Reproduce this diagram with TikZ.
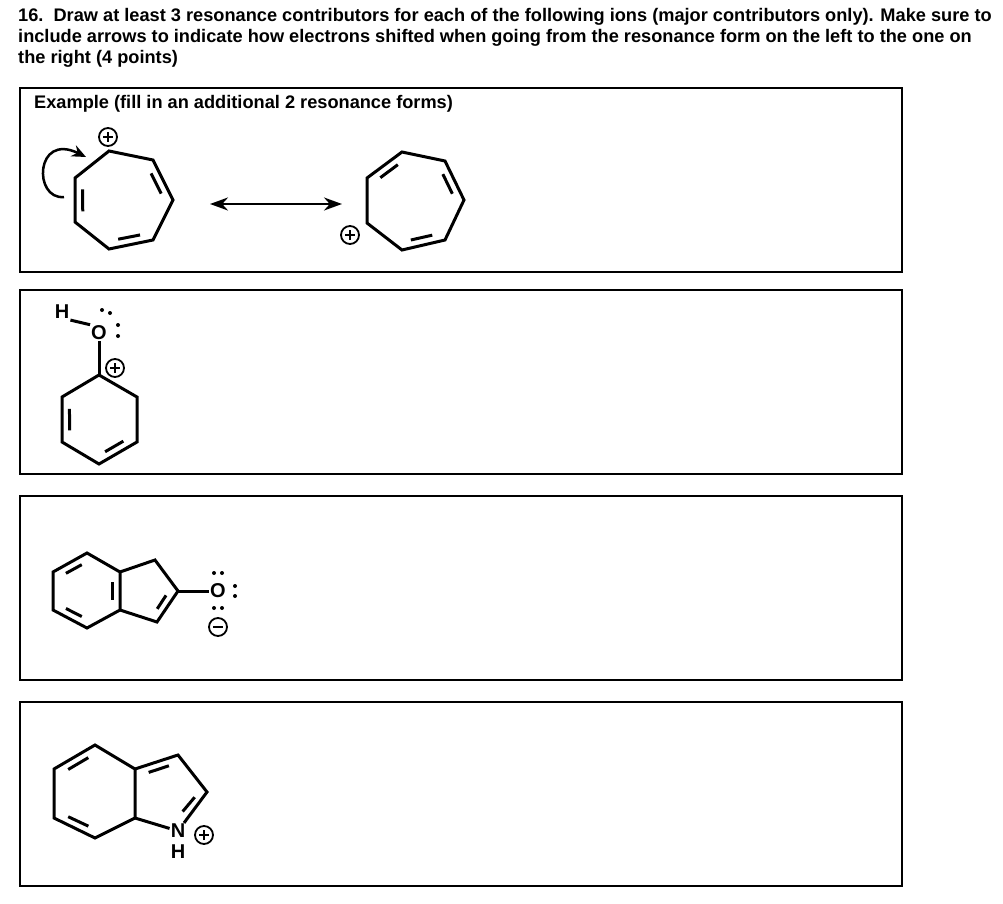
\documentclass[tikz,border=0pt]{standalone}
\usepackage{fontspec}
\setmainfont{Liberation Sans}
\usetikzlibrary{calc,arrows.meta}
\begin{document}
\begin{tikzpicture}[x=1pt,y=-1pt,
  bond/.style={line width=3pt,line join=miter},
  frame/.style={line width=1.5pt},
  atom/.style={font=\bfseries\fontsize{20}{20}\selectfont,inner sep=1pt},
  cplus/.style={circle,draw,line width=1.8pt,minimum size=18pt,inner sep=0pt,
    path picture={\draw[line width=2pt] (path picture bounding box.center) ++(-5pt,0)--++(10pt,0)
      (path picture bounding box.center) ++(0,-5pt)--++(0,10pt);}},
  cminus/.style={circle,draw,line width=1.8pt,minimum size=18pt,inner sep=0pt,
    path picture={\draw[line width=2pt] (path picture bounding box.center) ++(-5pt,0)--++(10pt,0);}},
  dot/.style={circle,fill,inner sep=0pt,minimum size=4pt},
  txt/.style={font=\bfseries\fontsize{18.2}{21}\selectfont,anchor=north west,inner sep=0pt,align=left}]
\useasboundingbox (0,0) rectangle (1003,904);
\newcommand\dbl[3]{\draw[bond] ($($(#1)!0.2!(#2)$)!8pt!(#3)$) -- ($($(#1)!0.8!(#2)$)!8pt!(#3)$);}
\node[txt] (title) at (18,8) {16.\ \ Draw at least 3 resonance contributors for each of the following ions (major contributors only). Make sure to\\include arrows to indicate how electrons shifted when going from the resonance form on the left to the one on\\the right (4 points)};
\draw[frame] (20,88) rectangle (902,272);
\draw[frame] (20,290) rectangle (902,474);
\draw[frame] (20,496) rectangle (902,680);
\draw[frame] (20,702) rectangle (902,886);
\node[txt] (ex) at (34,95) {Example (fill in an additional 2 resonance forms)};
% heptagon 1
\coordinate (a1) at (109,151); \coordinate (a2) at (153,160); \coordinate (a3) at (173,200);
\coordinate (a4) at (153,240); \coordinate (a5) at (109,249); \coordinate (a6) at (75,222);
\coordinate (a7) at (75,178); \coordinate (ac) at (120,202);
\draw[bond] (a1)--(a2)--(a3)--(a4)--(a5)--(a6)--(a7)--cycle;
\dbl{a6}{a7}{ac}\dbl{a2}{a3}{ac}\dbl{a4}{a5}{ac}
\node[cplus] (p1) at (108,137) {};
\coordinate (ca) at (64,197); \coordinate (cb) at (86,157);
\draw[line width=2.5pt,-{Stealth[length=14pt,width=12pt]}] (ca) .. controls (33,200) and (35,132) .. (cb);
% resonance arrow
\coordinate (r1) at (210,204); \coordinate (r2) at (342,204);
\draw[line width=2.5pt,{Stealth[length=18pt,width=13pt]}-{Stealth[length=18pt,width=13pt]}] (r1)--(r2);
% heptagon 2
\coordinate (b1) at (402,152); \coordinate (b2) at (445,161); \coordinate (b3) at (464,200);
\coordinate (b4) at (445,240); \coordinate (b5) at (402,250); \coordinate (b6) at (367,223);
\coordinate (b7) at (367,178); \coordinate (bc) at (412,202);
\draw[bond] (b1)--(b2)--(b3)--(b4)--(b5)--(b6)--(b7)--cycle;
\dbl{b7}{b1}{bc}\dbl{b2}{b3}{bc}\dbl{b4}{b5}{bc}
\node[cplus] (p2) at (350,235) {};
% molecule 2
\node[atom] (H2) at (62,312) {H};
\node[atom] (O2) at (99,333) {O};
\draw[bond] (H2.south east)--(O2.north west);
\coordinate (c1) at (99,375); \coordinate (c2) at (137,397); \coordinate (c3) at (137,442);
\coordinate (c4) at (99,464); \coordinate (c5) at (62,442); \coordinate (c6) at (62,397);
\coordinate (cc) at (99,420);
\draw[bond] (O2)--(c1);
\draw[bond] (c1)--(c2)--(c3)--(c4)--(c5)--(c6)--cycle;
\dbl{c5}{c6}{cc}\dbl{c3}{c4}{cc}
\node[cplus] (p3) at (115,368) {};
\node[dot] at (102,310) {}; \node[dot] at (110,313) {};
\node[dot] at (118,325) {}; \node[dot] at (118,336) {};
% molecule 3
\coordinate (d1) at (87,553); \coordinate (d2) at (120,572); \coordinate (d3) at (120,610);
\coordinate (d4) at (87,628); \coordinate (d5) at (53,610); \coordinate (d6) at (53,572);
\coordinate (dc) at (87,591);
\coordinate (e1) at (155,560); \coordinate (e2) at (178,591); \coordinate (e3) at (157,622);
\coordinate (ec) at (147,591);
\draw[bond] (d1)--(d2)--(d3)--(d4)--(d5)--(d6)--cycle;
\draw[bond] (d2)--(e1)--(e2)--(e3)--(d3);
\dbl{d6}{d1}{dc}\dbl{d2}{d3}{dc}\dbl{d4}{d5}{dc}\dbl{e2}{e3}{ec}
\node[atom] (O3) at (218,591) {O};
\draw[bond] (e2)--(O3);
\node[dot] at (214,573) {}; \node[dot] at (222,573) {};
\node[dot] at (214,608) {}; \node[dot] at (222,608) {};
\node[dot] at (235,586) {}; \node[dot] at (235,596) {};
\node[cminus] (m3) at (218,627) {};
% molecule 4
\coordinate (f1) at (95,745); \coordinate (f2) at (135,769); \coordinate (f3) at (135,818);
\coordinate (f4) at (95,838); \coordinate (f5) at (54,818); \coordinate (f6) at (54,769);
\coordinate (fc) at (95,793);
\coordinate (g1) at (178,755); \coordinate (g2) at (207,792); \coordinate (gc) at (167,795);
\node[atom] (N4) at (178,831) {N};
\node[atom] (H4) at (178,852) {H};
\draw[bond] (f1)--(f2)--(f3)--(f4)--(f5)--(f6)--cycle;
\draw[bond] (f2)--(g1)--(g2)--(N4)--(f3);
\dbl{f6}{f1}{fc}\dbl{f4}{f5}{fc}\dbl{f2}{g1}{gc}
\draw[bond] ($($(g2)!0.15!(N4)$)!8pt!(gc)$) -- ($($(g2)!0.65!(N4)$)!8pt!(gc)$);
\node[cplus] (p4) at (204,835) {};
\end{tikzpicture}
\end{document}
